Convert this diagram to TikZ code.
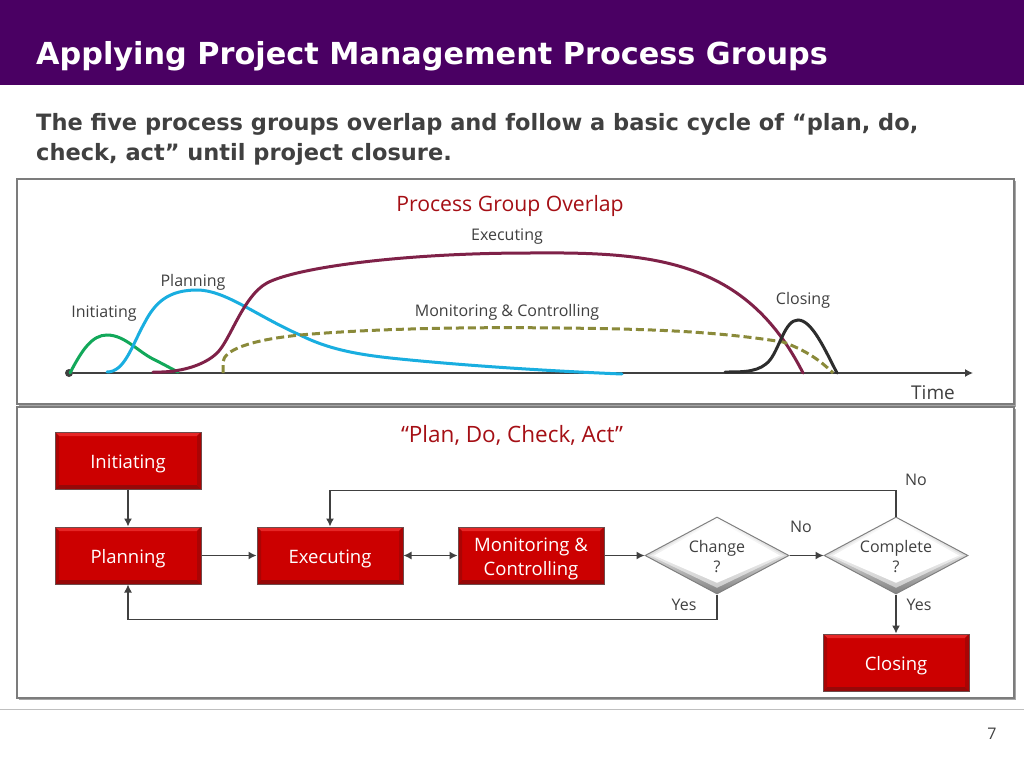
\documentclass[tikz,border=0pt]{standalone}
\usepackage{fontspec}
\setmainfont{DejaVu Sans}
\newfontfamily\labelfont{Open Sans}
\usetikzlibrary{arrows.meta,positioning,shapes.geometric}
\definecolor{headpurple}{HTML}{4A0063}
\definecolor{inkgray}{HTML}{404040}
\definecolor{titlered}{HTML}{A50F15}
\definecolor{boxred}{HTML}{CC0000}
\definecolor{boxlight}{HTML}{E62626}
\definecolor{boxdark}{HTML}{960808}
\definecolor{boxside}{HTML}{AA0404}
\definecolor{boxedge}{HTML}{6E4A4A}
\definecolor{panelgray}{HTML}{7C7C7C}
\definecolor{initgreen}{HTML}{12A85A}
\definecolor{planblue}{HTML}{19AEE0}
\definecolor{execmaroon}{HTML}{7F2148}
\definecolor{monolive}{HTML}{8A8A3A}
\tikzset{
  redbox/.style={rectangle, draw=boxedge, line width=1pt, fill=boxred, text=white,
    minimum width=146pt, minimum height=57pt, inner sep=0pt, align=center,
    font=\labelfont\fontsize{18.5}{24}\selectfont,
    path picture={
      \fill[boxlight] (path picture bounding box.north west) -- (path picture bounding box.north east)
        -- ([xshift=-4pt,yshift=-4pt]path picture bounding box.north east)
        -- ([xshift=4pt,yshift=-4pt]path picture bounding box.north west) -- cycle;
      \fill[boxdark] (path picture bounding box.south west) -- (path picture bounding box.south east)
        -- ([xshift=-4pt,yshift=4pt]path picture bounding box.south east)
        -- ([xshift=4pt,yshift=4pt]path picture bounding box.south west) -- cycle;
      \fill[boxside] (path picture bounding box.north west) -- (path picture bounding box.south west)
        -- ([xshift=4pt,yshift=4pt]path picture bounding box.south west)
        -- ([xshift=4pt,yshift=-4pt]path picture bounding box.north west) -- cycle;
      \fill[boxside] (path picture bounding box.north east) -- (path picture bounding box.south east)
        -- ([xshift=-4pt,yshift=4pt]path picture bounding box.south east)
        -- ([xshift=-4pt,yshift=-4pt]path picture bounding box.north east) -- cycle;
    }},
  decision/.style={diamond, shape aspect=1.87, draw=gray, line width=1pt, inner sep=0pt,
    minimum width=144pt, minimum height=77pt, align=center, text=inkgray,
    font=\labelfont\fontsize{16}{20}\selectfont,
    path picture={
      \shade[top color=white, bottom color=black!50, middle color=black!15]
        (path picture bounding box.south west) rectangle (path picture bounding box.north east);
      \fill[white, opacity=0.55] ([yshift=-2pt]path picture bounding box.north)
        -- ([xshift=-5pt]path picture bounding box.east)
        -- ([yshift=6pt]path picture bounding box.south)
        -- ([xshift=5pt]path picture bounding box.west) -- cycle;
      \fill[white] ([yshift=-3pt]path picture bounding box.north)
        -- ([xshift=-9pt]path picture bounding box.east)
        -- ([yshift=11pt]path picture bounding box.south)
        -- ([xshift=9pt]path picture bounding box.west) -- cycle;
    }},
  panel/.style={draw=panelgray, line width=2pt, fill=white},
  curvelabel/.style={text=inkgray, inner sep=0pt, font=\labelfont\fontsize{16}{19}\selectfont},
  paneltitle/.style={text=titlered, inner sep=0pt, font=\labelfont\fontsize{21.2}{26}\selectfont},
  flow/.style={draw=inkgray, line width=1.3pt, >={Latex[length=8pt,width=8pt]}},
  phase/.style={line width=3pt, line cap=round},
}
\newcommand{\lowertext}[1]{\rule{0pt}{#1}}
\begin{document}
\begin{tikzpicture}[x=1pt,y=-1pt]
  \useasboundingbox (0,0) rectangle (1024,768);
  % header
  \fill[headpurple] (0,0) rectangle (1024,85);
  \node (title) [anchor=base west, inner sep=0pt, text=white, font=\bfseries\fontsize{30.3}{34}\selectfont] at (36,64.5) {Applying Project Management Process Groups};
  \node (sub1) [anchor=base west, inner sep=0pt, text=inkgray, font=\bfseries\fontsize{22.5}{30}\selectfont] at (36,130) {The five process groups overlap and follow a basic cycle of “plan, do,};
  \node (sub2) [anchor=base west, inner sep=0pt, text=inkgray, font=\bfseries\fontsize{22.5}{30}\selectfont] at (36,160) {check, act” until project closure.};
  % panels
  \fill[black!35] (19,181) rectangle (1016,407);
  \fill[black!35] (19,409) rectangle (1016,700);
  \draw[panel] (17,179) rectangle (1014,404);
  \draw[panel] (17,407) rectangle (1014,698);
  \draw[black!25, line width=1pt] (0,709) -- (1024,709);
  \node (pageno) [text=inkgray, inner sep=0pt, font=\labelfont\fontsize{16}{20}\selectfont] at (992,734) {7};

  % overlap curves
  \node (overlap) [paneltitle] at (510,206) {Process Group Overlap};
  \node (origin) [circle, fill=inkgray, inner sep=0pt, minimum size=8pt] at (69,373) {};
  \coordinate (axisend) at (973,373);
  \draw[flow, ->] (origin) -- (axisend);
  \draw[phase, initgreen] (70,373) .. controls (82,350) and (92,335) .. (107,335) .. controls (125,335) and (138,352) .. (155,360) .. controls (165,365) and (172,369) .. (178,372);
  \draw[phase, planblue] (107,372) .. controls (125,372) and (132,345) .. (145,322) .. controls (155,303) and (168,290) .. (197,290) .. controls (225,290) and (255,315) .. (300,335) .. controls (330,350) and (360,355) .. (400,359) .. controls (470,366) and (550,371) .. (622,374);
  \draw[phase, execmaroon] (153,372) .. controls (180,373) and (205,365) .. (217,353) .. controls (230,341) and (243,296) .. (267,283) .. controls (295,268) and (400,253) .. (530,253) .. controls (650,252) and (745,258) .. (803,373);
  \draw[phase, monolive, dash pattern=on 8pt off 4pt, line cap=butt] (223,373) -- (223,362) .. controls (224,350) and (250,340) .. (300,335) .. controls (380,328) and (480,327) .. (560,328) .. controls (660,329) and (720,332) .. (783,342) .. controls (805,350) and (820,360) .. (833,373);
  \draw[phase, inkgray!70!black] (725,372) .. controls (745,372) and (760,372) .. (770,360) .. controls (780,347) and (785,320) .. (798,320) .. controls (812,320) and (825,350) .. (837,373);
  \node (initlabel) [curvelabel] at (104,314) {Initiating};
  \node (planlabel) [curvelabel] at (193,282) {Planning};
  \node (execlabel) [curvelabel] at (507,237) {Executing};
  \node (monlabel) [curvelabel] at (507,312) {Monitoring \& Controlling};
  \node (closelabel) [curvelabel] at (803,300) {Closing};
  \node (timelabel) [curvelabel, font=\labelfont\fontsize{19}{23}\selectfont] at (933,393) {Time};

  % flow chart
  \node (cycle) [paneltitle, font=\labelfont\fontsize{22.5}{26}\selectfont] at (512,435) {“Plan, Do, Check, Act”};
  \node (initiating) [redbox] at (128,460.5) {\lowertext{20pt}Initiating};
  \node (planning) [redbox, below=37pt of initiating] {\lowertext{20pt}Planning};
  \node (executing) [redbox, right=55pt of planning] {\lowertext{20pt}Executing};
  \node (monitoring) [redbox, right=54pt of executing] {\lowertext{20pt}Monitoring \&\\Controlling};
  \node (change) [decision, right=40pt of monitoring] {\lowertext{14.5pt}Change\\?};
  \node (complete) [decision, right=34pt of change] {\lowertext{14.5pt}Complete\\?};
  \node (closing) [redbox, below=39pt of complete] {\lowertext{20pt}Closing};
  \coordinate[above=26pt of complete.north] (noturn);
  \coordinate[below=25pt of change.south] (yesturn);
  \draw[flow, ->] (initiating) -- (planning);
  \draw[flow, ->] (planning) -- (executing);
  \draw[flow, <->] (executing) -- (monitoring);
  \draw[flow, ->] (monitoring) -- (change);
  \draw[flow, ->] (change) -- (complete);
  \draw[flow, ->] (complete) -- (closing);
  \draw[flow, ->] (complete.north) -- (noturn) -| (executing.north);
  \draw[flow, ->] (change.south) -- (yesturn) -| (planning.south);
  \node (nocomplete) [curvelabel] at (916,480) {No};
  \node (nochange) [curvelabel] at (801,527) {No};
  \node (yeschange) [curvelabel] at (684,605) {Yes};
  \node (yescomplete) [curvelabel] at (919,605) {Yes};
\end{tikzpicture}
\end{document}
